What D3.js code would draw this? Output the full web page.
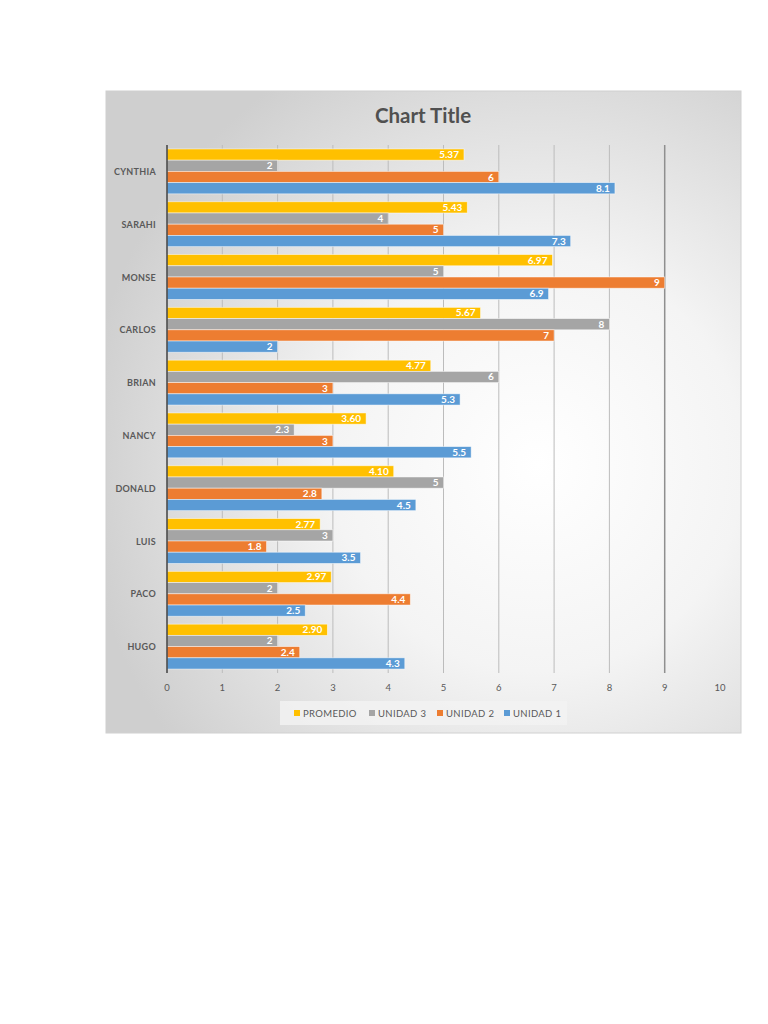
<!DOCTYPE html>
<html><head><meta charset="utf-8">
<script src="https://cdn.jsdelivr.net/npm/d3@7"></script>
<style>body{margin:0;background:#fff;}svg{display:block;}</style>
</head><body>
<svg id="c" width="768" height="1024"></svg>
<script>
const categories = ["CYNTHIA","SARAHI","MONSE","CARLOS","BRIAN","NANCY","DONALD","LUIS","PACO","HUGO"];
const seriesNames = ["PROMEDIO","UNIDAD 3","UNIDAD 2","UNIDAD 1"];
const promedio = [5.37,5.43,6.97,5.67,4.77,3.60,4.10,2.77,2.97,2.90];
const unidad3 = [2,4,5,8,6,2.3,5,3,2,2];
const unidad2 = [6,5,9,7,3,3,2.8,1.8,4.4,2.4];
const unidad1 = [8.1,7.3,6.9,2,5.3,5.5,4.5,3.5,2.5,4.3];
const xTicks = [0,1,2,3,4,5,6,7,8,9,10];
const colors = ["#FFC000","#A5A5A5","#ED7D31","#5B9BD5"];
const seriesValues = [promedio, unidad3, unidad2, unidad1];
const fmt = [d=>d.toFixed(2), d=>String(d), d=>String(d), d=>String(d)];

const svg = d3.select("#c");
const defs = svg.append("defs");
const rg = defs.append("radialGradient").attr("id","bg")
  .attr("cx","0.68").attr("cy","0.58").attr("r","0.72");
rg.append("stop").attr("offset","0").attr("stop-color","#ffffff");
rg.append("stop").attr("offset","0.45").attr("stop-color","#f4f4f4");
rg.append("stop").attr("offset","1").attr("stop-color","#cfcfcf");

const chart = {x:106, y:91, w:635, h:642};
svg.append("rect").attr("x",chart.x).attr("y",chart.y).attr("width",chart.w).attr("height",chart.h)
  .attr("fill","url(#bg)").attr("stroke","#d0d0d0").attr("stroke-width",1);

const font = "Lato, 'Open Sans', sans-serif";
svg.append("text").attr("x",423).attr("y",123).attr("text-anchor","middle")
  .attr("font-family",font).attr("font-weight","bold").attr("font-size",20.5).attr("fill","#505050")
  .text("Chart Title");

const x = d3.scaleLinear().domain([0,10]).range([167,720]);
const y = d3.scaleBand().domain(categories).range([145,673]).paddingInner(0.15).paddingOuter(0.075);
const ys = d3.scaleBand().domain(seriesNames).range([0,y.bandwidth()]);

// gridlines
svg.append("g").selectAll("line").data(xTicks.filter(t=>t>0 && t<10)).join("line")
  .attr("x1",d=>x(d)).attr("x2",d=>x(d)).attr("y1",145).attr("y2",673)
  .attr("stroke",d=>d===9?"#8f8f8f":"#bcbcbc").attr("stroke-width",d=>d===9?1.5:1);

// bars
seriesNames.forEach((s,si)=>{
  const g = svg.append("g");
  g.selectAll("rect").data(categories).join("rect")
    .attr("x",x(0)).attr("y",(c)=>y(c)+ys(s))
    .attr("width",(c,i)=>x(seriesValues[si][i])-x(0))
    .attr("height",ys.bandwidth())
    .attr("fill",colors[si]).attr("stroke","#ffffff").attr("stroke-opacity",0.6).attr("stroke-width",0.8);
  g.selectAll("text").data(categories).join("text")
    .attr("x",(c,i)=>x(seriesValues[si][i])-5)
    .attr("y",(c)=>y(c)+ys(s)+ys.bandwidth()/2+3.5)
    .attr("text-anchor","end").attr("font-family",font).attr("font-weight","bold")
    .attr("font-size",10).attr("fill","#ffffff")
    .text((c,i)=>fmt[si](seriesValues[si][i]));
});

// y axis line
svg.append("line").attr("x1",x(0)).attr("x2",x(0)).attr("y1",145).attr("y2",673)
  .attr("stroke","#404040").attr("stroke-width",1.5);

// category labels
svg.append("g").selectAll("text").data(categories).join("text")
  .attr("x",156).attr("y",c=>y(c)+y.bandwidth()/2+3.5).attr("text-anchor","end")
  .attr("font-family",font).attr("font-weight","bold").attr("font-size",9).attr("fill","#595959")
  .attr("letter-spacing",0.3).text(d=>d);

// x tick labels
svg.append("g").selectAll("text").data(xTicks).join("text")
  .attr("x",d=>x(d)).attr("y",691).attr("text-anchor","middle")
  .attr("font-family",font).attr("font-size",9.5).attr("fill","#595959").text(d=>d);

// legend
svg.append("rect").attr("x",280).attr("y",701).attr("width",287).attr("height",24)
  .attr("fill","#f2f2f2").attr("fill-opacity",0.85);
const legX = [294,369,437,504];
const lg = svg.append("g").selectAll("g").data(seriesNames).join("g")
  .attr("transform",(d,i)=>`translate(${legX[i]},713)`);
lg.append("rect").attr("x",0).attr("y",-3).attr("width",6).attr("height",6).attr("fill",(d,i)=>colors[i]);
lg.append("text").attr("x",9).attr("y",3.5).attr("font-family",font).attr("font-size",9.5)
  .attr("fill","#595959").attr("letter-spacing",0.35).text(d=>d);
</script>
</body></html>
